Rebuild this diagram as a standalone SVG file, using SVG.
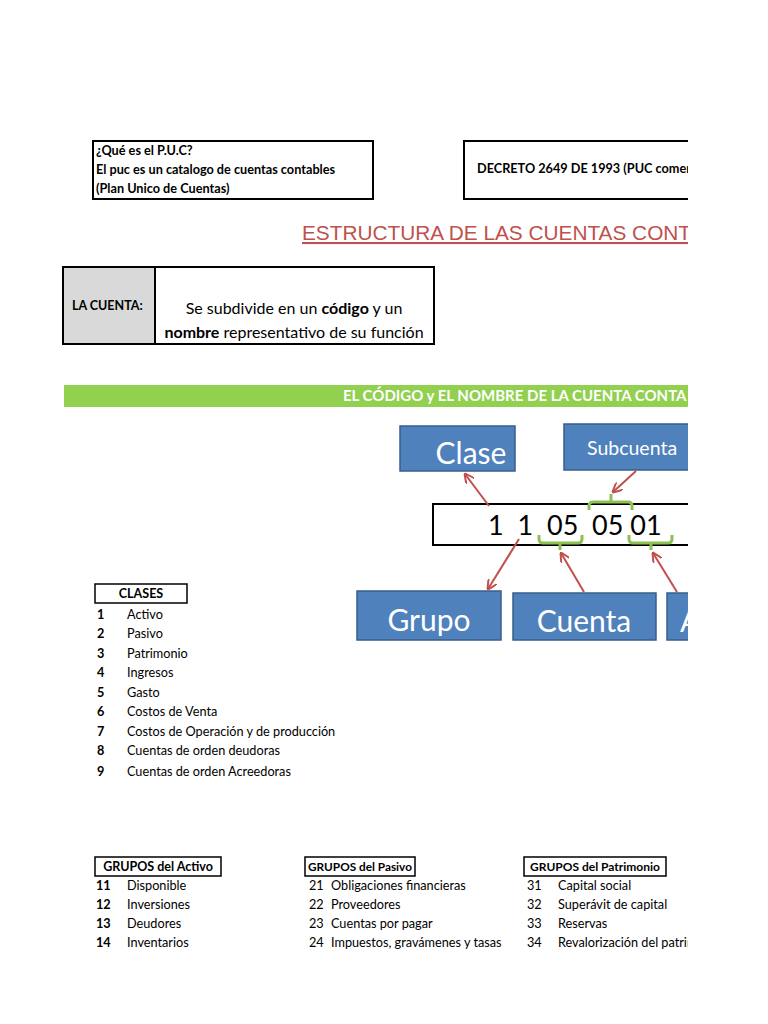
<svg xmlns="http://www.w3.org/2000/svg" width="768" height="1024" viewBox="0 0 768 1024">
<defs>
<clipPath id="page"><rect x="0" y="0" width="688" height="1024"/></clipPath>
<marker id="ah" viewBox="0 0 10 10" refX="9" refY="5" markerWidth="5" markerHeight="5" orient="auto"><path d="M0,0 L10,5 L0,10" fill="none" stroke="#c0504d" stroke-width="2"/></marker>
</defs>
<style>
.t{font-family:Lato,"Open Sans",sans-serif;fill:#000}
.b{font-weight:bold}
.s12{font-size:12.7px}
.box{fill:#fff;stroke:#000;stroke-width:2}
.blue{fill:#4f81bd;stroke:#385d8a;stroke-width:1.5}
.bt{font-family:Lato,"Open Sans",sans-serif;fill:#fff}
.arr{stroke:#c0504d;stroke-width:2;fill:none;marker-end:url(#ah)}
.br{stroke:#8cc152;stroke-width:3;fill:none;stroke-linejoin:round}
</style>
<rect width="768" height="1024" fill="#fff"/>
<g clip-path="url(#page)">
<g id="puc">
<rect class="box" x="93" y="141" width="280" height="58"/>
<text class="t b s12" x="96" y="155">¿Qué es el P.U.C?</text>
<text class="t b s12" x="96" y="174">El puc es un catalogo de cuentas contables</text>
<text class="t b s12" x="96" y="193">(Plan Unico de Cuentas)</text>
</g>
<g id="decreto">
<rect class="box" x="464" y="141" width="260" height="58"/>
<text class="t b s12" x="477" y="173">DECRETO 2649 DE 1993 (PUC comerc</text>
</g>
<g id="titulo">
<text x="302" y="240" font-family="Liberation Sans,Arial,sans-serif" font-size="20.8" fill="#c0504d" text-decoration="underline">ESTRUCTURA DE LAS CUENTAS CONT</text>
</g>
<g id="lacuenta">
<rect x="63" y="267" width="92" height="77" fill="#d9d9d9" stroke="#000" stroke-width="2"/>
<rect x="155" y="267" width="279" height="77" fill="#fff" stroke="#000" stroke-width="2"/>
<text class="t b" font-size="12.5" x="72" y="310">LA CUENTA:</text>
<text class="t" font-size="16" x="294" y="314" text-anchor="middle">Se subdivide en un <tspan font-weight="bold">código</tspan> y un</text>
<text class="t" font-size="16" x="294" y="338" text-anchor="middle"><tspan font-weight="bold">nombre</tspan> representativo de su función</text>
</g>
<g id="barra">
<rect x="64" y="385" width="640" height="22" fill="#92d050"/>
<text class="bt b" font-size="15" x="343" y="401">EL CÓDIGO y EL NOMBRE DE LA CUENTA CONTA</text>
</g>
<g id="codigo">
<rect class="box" x="433" y="504" width="300" height="41"/>
<text class="t" font-size="27" x="488" y="535" xml:space="preserve">1  1  05  05 01</text>
</g>
<g id="clase">
<rect class="blue" x="400" y="426" width="115" height="45"/>
<text class="bt" font-size="30" x="471" y="464" text-anchor="middle">Clase</text>
</g>
<g id="subcuenta">
<rect class="blue" x="564" y="424" width="160" height="46"/>
<text class="bt" font-size="19.5" x="587" y="455">Subcuenta</text>
</g>
<g id="grupo">
<rect class="blue" x="357" y="591" width="144" height="49"/>
<text class="bt" font-size="30" x="429" y="631" text-anchor="middle">Grupo</text>
</g>
<g id="cuenta">
<rect class="blue" x="513" y="593" width="143" height="47"/>
<text class="bt" font-size="30" x="584" y="632" text-anchor="middle">Cuenta</text>
</g>
<g id="auxiliar">
<rect class="blue" x="667" y="593" width="143" height="47"/>
<text class="bt" font-size="30" x="680" y="632">A</text>
</g>
<g id="connectors">
<path class="br" d="M589,510 V506 Q589,502 593,502 H628 Q632,502 632,506 V510 M611,502 V494"/>
<path class="br" d="M539,535 V539 Q539,543 543,543 H578 Q582,543 582,539 V535 M560,543 V550"/>
<path class="br" d="M629,535 V539 Q629,543 633,543 H668 Q672,543 672,539 V535 M651,543 V550"/>
<path class="arr" d="M636,471 L613,492"/>
<path class="arr" d="M489,506 L465,474"/>
<path class="arr" d="M519,539 L488,589"/>
<path class="arr" d="M584,592 L561,553"/>
<path class="arr" d="M677,592 L653,553"/>
</g>
<g id="clases">
<rect x="95" y="584" width="92" height="19" fill="#fff" stroke="#000" stroke-width="1.5"/>
<text class="t b" font-size="12.5" x="141" y="598" text-anchor="middle">CLASES</text>
<g class="t s12">
<text x="97" y="619" class="b">1</text><text x="127" y="619">Activo</text>
<text x="97" y="638" class="b">2</text><text x="127" y="638">Pasivo</text>
<text x="97" y="658" class="b">3</text><text x="127" y="658">Patrimonio</text>
<text x="97" y="677" class="b">4</text><text x="127" y="677">Ingresos</text>
<text x="97" y="697" class="b">5</text><text x="127" y="697">Gasto</text>
<text x="97" y="716" class="b">6</text><text x="127" y="716">Costos de Venta</text>
<text x="97" y="736" class="b">7</text><text x="127" y="736">Costos de Operación y de producción</text>
<text x="97" y="755" class="b">8</text><text x="127" y="755">Cuentas de orden deudoras</text>
<text x="97" y="776" class="b">9</text><text x="127" y="776">Cuentas de orden Acreedoras</text>
</g>
</g>
<g id="gactivo">
<rect x="95" y="857" width="126" height="19" fill="#fff" stroke="#000" stroke-width="1.5"/>
<text class="t b" font-size="12.5" x="158" y="871" text-anchor="middle">GRUPOS del Activo</text>
<g class="t s12">
<text x="96" y="890" class="b">11</text><text x="127" y="890">Disponible</text>
<text x="96" y="909" class="b">12</text><text x="127" y="909">Inversiones</text>
<text x="96" y="928" class="b">13</text><text x="127" y="928">Deudores</text>
<text x="96" y="947" class="b">14</text><text x="127" y="947">Inventarios</text>
</g>
</g>
<g id="gpasivo">
<rect x="305" y="857" width="110" height="19" fill="#fff" stroke="#000" stroke-width="1.5"/>
<text class="t b" font-size="11.8" x="360" y="871" text-anchor="middle">GRUPOS del Pasivo</text>
<g class="t s12">
<text x="309" y="890">21</text><text x="331" y="890">Obligaciones financieras</text>
<text x="309" y="909">22</text><text x="331" y="909">Proveedores</text>
<text x="309" y="928">23</text><text x="331" y="928">Cuentas por pagar</text>
<text x="309" y="947">24</text><text x="331" y="947">Impuestos, gravámenes y tasas</text>
</g>
</g>
<g id="gpatrimonio">
<rect x="524" y="857" width="142" height="19" fill="#fff" stroke="#000" stroke-width="1.5"/>
<text class="t b" font-size="12" x="595" y="871" text-anchor="middle">GRUPOS del Patrimonio</text>
<g class="t s12">
<text x="527" y="890">31</text><text x="558" y="890">Capital social</text>
<text x="527" y="909">32</text><text x="558" y="909">Superávit de capital</text>
<text x="527" y="928">33</text><text x="558" y="928">Reservas</text>
<text x="527" y="947">34</text><text x="558" y="947">Revalorización del patrimonio</text>
</g>
</g>
</g>
</svg>
